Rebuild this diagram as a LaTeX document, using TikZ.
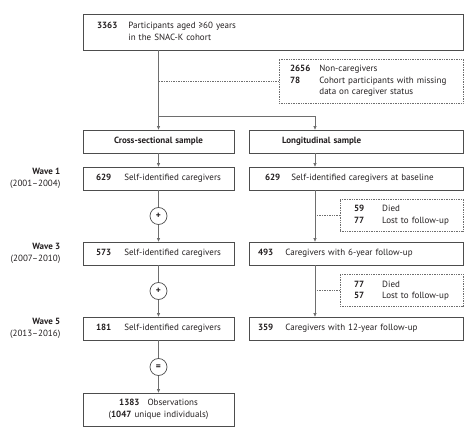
\documentclass[tikz,border=0pt]{standalone}
\usepackage{fontspec}
\setmainfont{PT Sans}
\usetikzlibrary{arrows.meta}
\definecolor{ink}{HTML}{231F20}
\definecolor{frame}{HTML}{4D4D4D}
\definecolor{wire}{HTML}{6E6E6E}
\begin{document}
\begin{tikzpicture}[x=1pt,y=1pt,line width=0.7pt,
    every node/.style={font=\fontsize{9}{11.5}\selectfont,text=ink},
    box/.style={rectangle,draw=frame,inner ysep=0pt,align=left,minimum height=23pt},
    lbox/.style={box,text width=125pt,inner xsep=13pt},
    rbox/.style={box,text width=196pt,inner xsep=9pt},
    drop box/.style={rectangle,draw=wire,densely dotted,inner ysep=0pt,align=left},
    op node/.style={circle,draw=frame,minimum size=17pt,inner sep=0pt,font=\fontsize{9.5}{10}\bfseries},
    wave/.style={anchor=east,align=right},
    flow/.style={draw=wire,-{Triangle[length=3.5pt,width=3pt]}},
    cut/.style={draw=wire,densely dotted}]
  \useasboundingbox (0,0) rectangle (474,-438);
  % start
  \node[box,text width=352pt,inner xsep=14pt,minimum height=36pt] at (273,-32) (all)
    {\begin{tabular}{@{}l@{\hspace{11pt}}l@{}}\textbf{3363} & Participants aged ≥60 years\\ & in the SNAC-K cohort\end{tabular}};
  \node[drop box,text width=162pt,inner xsep=11pt,minimum height=44pt] at (371,-81) (excl)
    {\begin{tabular}{@{}l@{\hspace{9pt}}l@{}}\textbf{2656} & Non-caregivers\\ \textbf{78} & Cohort participants with missing\\ & data on caregiver status\end{tabular}};
  % samples
  \node[lbox,align=center] at (158.5,-141.5) (cross) {\textbf{Cross-sectional sample}};
  \node[rbox,text width=148pt,inner xsep=33pt] at (356,-141.5) (longi) {\textbf{Longitudinal sample}};
  \coordinate (split) at (158.5,-116);
  \coordinate (spine) at (315,-116);
  % waves
  \node[wave] at (64,-178.5) (wave1) {\textbf{Wave 1}\\(2001–2004)};
  \node[wave] at (64,-253.5) (wave3) {\textbf{Wave 3}\\(2007–2010)};
  \node[wave] at (64,-328.5) (wave5) {\textbf{Wave 5}\\(2013–2016)};
  \node[lbox] at (158.5,-178.5) (c1) {\textbf{629}\hspace{13pt}Self-identified caregivers};
  \node[rbox,inner xsep=16pt,text width=182pt] at (356,-178.5) (l1) {\textbf{629}\hspace{11pt}Self-identified caregivers at baseline};
  \node[lbox] at (158.5,-253.5) (c3) {\textbf{573}\hspace{13pt}Self-identified caregivers};
  \node[rbox] at (356,-253.5) (l3) {\textbf{493}\hspace{12pt}Caregivers with 6-year follow-up};
  \node[lbox] at (158.5,-328.5) (c5) {\textbf{181}\hspace{13pt}Self-identified caregivers};
  \node[rbox] at (356,-328.5) (l5) {\textbf{359}\hspace{12pt}Caregivers with 12-year follow-up};
  \node[drop box,text width=95pt,inner xsep=14pt,minimum height=32pt] at (401.5,-215) (loss1)
    {\begin{tabular}{@{}l@{\hspace{18pt}}l@{}}\textbf{59} & Died\\ \textbf{77} & Lost to follow-up\end{tabular}};
  \node[drop box,text width=95pt,inner xsep=14pt,minimum height=32pt] at (401.5,-290.5) (loss2)
    {\begin{tabular}{@{}l@{\hspace{18pt}}l@{}}\textbf{77} & Died\\ \textbf{57} & Lost to follow-up\end{tabular}};
  \node[op node] at (158.5,-216) (plus1) {+};
  \node[op node] at (158.5,-291) (plus2) {+};
  \node[op node] at (158.5,-367) (equal) {=};
  \node[box,text width=125pt,inner xsep=13pt,minimum height=33pt,align=center] at (158.5,-409.5) (obs)
    {\textbf{1383}\hspace{8pt}Observations\\(\textbf{1047} unique individuals)};

  \draw[wire] (all.south -| split) -- (split);
  \draw[flow] (split) -- (cross.north);
  \draw[flow] (split) -| (longi.north -| spine);
  \draw[cut] (excl.west) -- (excl.west -| split);
  \draw[flow] (cross) -- (c1);
  \draw[flow] (longi.south -| spine) -- (l1.north -| spine);
  \draw[wire] (c1) -- (plus1);
  \draw[flow] (plus1) -- (c3);
  \draw[wire] (c3) -- (plus2);
  \draw[flow] (plus2) -- (c5);
  \draw[wire] (c5) -- (equal);
  \draw[flow] (equal) -- (obs);
  \draw[flow] (l1.south -| spine) -- (l3.north -| spine);
  \draw[flow] (l3.south -| spine) -- (l5.north -| spine);
  \draw[cut] (loss1.west) -- (loss1.west -| spine);
  \draw[cut] (loss2.west) -- (loss2.west -| spine);
\end{tikzpicture}
\end{document}
